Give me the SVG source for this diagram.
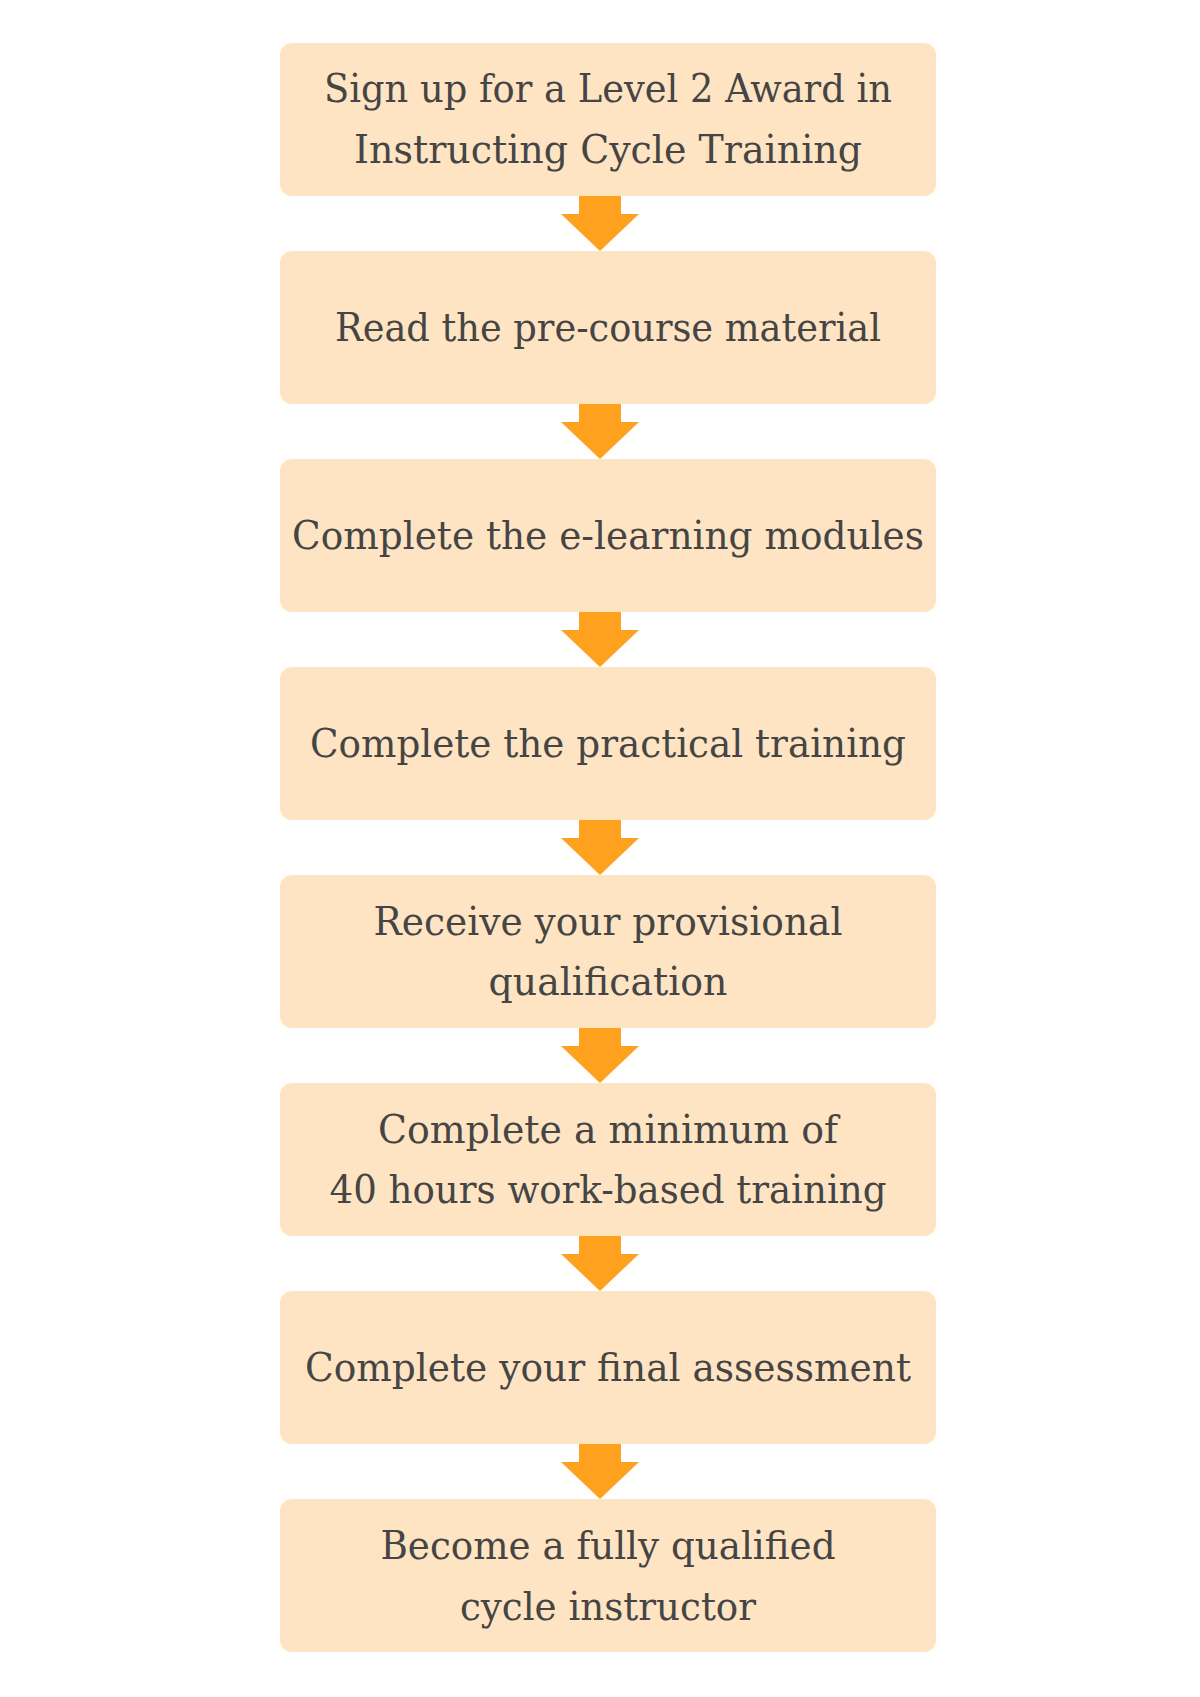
<svg xmlns="http://www.w3.org/2000/svg" width="1200" height="1697" viewBox="0 0 1200 1697">
<style>
.box{fill:#FEE4C2}
.arr{fill:#FEA11F}
.t{font-family:"DejaVu Serif","Liberation Serif",serif;font-size:39px;fill:#454545;text-anchor:middle}
</style>
<defs>
<path id="arrow" d="M579,0 H621 V18 H639 L600,55 L561,18 H579 Z"/>
</defs>
<rect width="1200" height="1697" fill="#FFFFFF"/>
<g id="connectors">
<use href="#arrow" class="arr" y="196"/>
<use href="#arrow" class="arr" y="404"/>
<use href="#arrow" class="arr" y="612"/>
<use href="#arrow" class="arr" y="820"/>
<use href="#arrow" class="arr" y="1028"/>
<use href="#arrow" class="arr" y="1236"/>
<use href="#arrow" class="arr" y="1444"/>
</g>
<g id="node1">
<rect class="box" x="280" y="43" width="656" height="153" rx="12"/>
<text class="t" x="608" y="102" textLength="568" lengthAdjust="spacingAndGlyphs">Sign up for a Level 2 Award in</text>
<text class="t" x="608" y="163" textLength="508" lengthAdjust="spacingAndGlyphs">Instructing Cycle Training</text>
</g>
<g id="node2">
<rect class="box" x="280" y="251" width="656" height="153" rx="12"/>
<text class="t" x="608" y="341" textLength="546" lengthAdjust="spacingAndGlyphs">Read the pre-course material</text>
</g>
<g id="node3">
<rect class="box" x="280" y="459" width="656" height="153" rx="12"/>
<text class="t" x="608" y="549" textLength="632" lengthAdjust="spacingAndGlyphs">Complete the e-learning modules</text>
</g>
<g id="node4">
<rect class="box" x="280" y="667" width="656" height="153" rx="12"/>
<text class="t" x="608" y="757" textLength="596" lengthAdjust="spacingAndGlyphs">Complete the practical training</text>
</g>
<g id="node5">
<rect class="box" x="280" y="875" width="656" height="153" rx="12"/>
<text class="t" x="608" y="935" textLength="469" lengthAdjust="spacingAndGlyphs">Receive your provisional</text>
<text class="t" x="608" y="995" textLength="239" lengthAdjust="spacingAndGlyphs">qualification</text>
</g>
<g id="node6">
<rect class="box" x="280" y="1083" width="656" height="153" rx="12"/>
<text class="t" x="608" y="1143" textLength="460" lengthAdjust="spacingAndGlyphs">Complete a minimum of</text>
<text class="t" x="608" y="1203" textLength="557" lengthAdjust="spacingAndGlyphs">40 hours work-based training</text>
</g>
<g id="node7">
<rect class="box" x="280" y="1291" width="656" height="153" rx="12"/>
<text class="t" x="608" y="1381" textLength="606" lengthAdjust="spacingAndGlyphs">Complete your final assessment</text>
</g>
<g id="node8">
<rect class="box" x="280" y="1499" width="656" height="153" rx="12"/>
<text class="t" x="608" y="1559" textLength="455" lengthAdjust="spacingAndGlyphs">Become a fully qualified</text>
<text class="t" x="608" y="1620" textLength="296" lengthAdjust="spacingAndGlyphs">cycle instructor</text>
</g>
</svg>
